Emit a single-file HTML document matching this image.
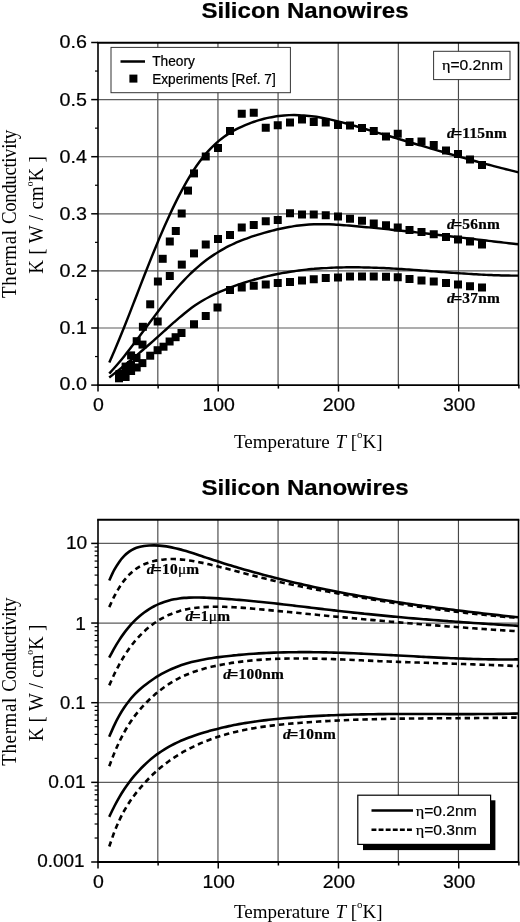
<!DOCTYPE html>
<html lang="en"><head><meta charset="utf-8"><title>Silicon Nanowires</title>
<style>html,body{margin:0;padding:0;background:#fff}svg{display:block}</style>
</head><body>
<svg width="520" height="922" viewBox="0 0 520 922">
<rect width="520" height="922" fill="#fff"/>
<text transform="translate(305.00 18.20) scale(1.060 1)" text-anchor="middle" style="font-family:'Liberation Sans',Arial,sans-serif;font-size:22.7px;font-weight:bold;stroke:#000;stroke-width:0.22px">Silicon Nanowires</text>
<line x1="157.82" y1="42.50" x2="157.82" y2="385.10" stroke="#484848" stroke-width="1.15"/>
<line x1="217.95" y1="42.50" x2="217.95" y2="385.10" stroke="#484848" stroke-width="1.15"/>
<line x1="278.07" y1="42.50" x2="278.07" y2="385.10" stroke="#484848" stroke-width="1.15"/>
<line x1="338.20" y1="42.50" x2="338.20" y2="385.10" stroke="#484848" stroke-width="1.15"/>
<line x1="398.32" y1="42.50" x2="398.32" y2="385.10" stroke="#484848" stroke-width="1.15"/>
<line x1="458.45" y1="42.50" x2="458.45" y2="385.10" stroke="#484848" stroke-width="1.15"/>
<line x1="98.00" y1="328.00" x2="518.50" y2="328.00" stroke="#5c5c5c" stroke-width="1.15"/>
<line x1="98.00" y1="270.90" x2="518.50" y2="270.90" stroke="#5c5c5c" stroke-width="1.15"/>
<line x1="98.00" y1="213.80" x2="518.50" y2="213.80" stroke="#5c5c5c" stroke-width="1.15"/>
<line x1="98.00" y1="156.70" x2="518.50" y2="156.70" stroke="#5c5c5c" stroke-width="1.15"/>
<line x1="98.00" y1="99.60" x2="518.50" y2="99.60" stroke="#5c5c5c" stroke-width="1.15"/>
<path d="M97.20 42.70H519.30M97.20 385.10H519.30" fill="none" stroke="#000" stroke-width="1.9"/>
<path d="M98.00 42.50V385.10M518.50 42.50V385.10" fill="none" stroke="#000" stroke-width="1.6"/>
<line x1="98.00" y1="385.10" x2="98.00" y2="391.60" stroke="#000" stroke-width="1.5"/>
<line x1="158.12" y1="385.10" x2="158.12" y2="388.60" stroke="#000" stroke-width="1.5"/>
<line x1="218.25" y1="385.10" x2="218.25" y2="391.60" stroke="#000" stroke-width="1.5"/>
<line x1="278.38" y1="385.10" x2="278.38" y2="388.60" stroke="#000" stroke-width="1.5"/>
<line x1="338.50" y1="385.10" x2="338.50" y2="391.60" stroke="#000" stroke-width="1.5"/>
<line x1="398.62" y1="385.10" x2="398.62" y2="388.60" stroke="#000" stroke-width="1.5"/>
<line x1="458.75" y1="385.10" x2="458.75" y2="391.60" stroke="#000" stroke-width="1.5"/>
<line x1="518.88" y1="385.10" x2="518.88" y2="388.60" stroke="#000" stroke-width="1.5"/>
<line x1="91.20" y1="385.10" x2="98.00" y2="385.10" stroke="#000" stroke-width="1.5"/>
<line x1="91.20" y1="328.00" x2="98.00" y2="328.00" stroke="#000" stroke-width="1.5"/>
<line x1="91.20" y1="270.90" x2="98.00" y2="270.90" stroke="#000" stroke-width="1.5"/>
<line x1="91.20" y1="213.80" x2="98.00" y2="213.80" stroke="#000" stroke-width="1.5"/>
<line x1="91.20" y1="156.70" x2="98.00" y2="156.70" stroke="#000" stroke-width="1.5"/>
<line x1="91.20" y1="99.60" x2="98.00" y2="99.60" stroke="#000" stroke-width="1.5"/>
<line x1="91.20" y1="42.50" x2="98.00" y2="42.50" stroke="#000" stroke-width="1.5"/>
<line x1="95.00" y1="356.55" x2="98.00" y2="356.55" stroke="#000" stroke-width="1.2"/>
<line x1="95.00" y1="299.45" x2="98.00" y2="299.45" stroke="#000" stroke-width="1.2"/>
<line x1="95.00" y1="242.35" x2="98.00" y2="242.35" stroke="#000" stroke-width="1.2"/>
<line x1="95.00" y1="185.25" x2="98.00" y2="185.25" stroke="#000" stroke-width="1.2"/>
<line x1="95.00" y1="128.15" x2="98.00" y2="128.15" stroke="#000" stroke-width="1.2"/>
<line x1="95.00" y1="71.05" x2="98.00" y2="71.05" stroke="#000" stroke-width="1.2"/>
<text transform="translate(98.40 410.90) scale(1.060 1)" text-anchor="middle" style="font-family:'Liberation Sans',Arial,sans-serif;font-size:18.4px;stroke:#000;stroke-width:0.22px">0</text>
<text transform="translate(218.65 410.90) scale(1.060 1)" text-anchor="middle" style="font-family:'Liberation Sans',Arial,sans-serif;font-size:18.4px;stroke:#000;stroke-width:0.22px">100</text>
<text transform="translate(338.90 410.90) scale(1.060 1)" text-anchor="middle" style="font-family:'Liberation Sans',Arial,sans-serif;font-size:18.4px;stroke:#000;stroke-width:0.22px">200</text>
<text transform="translate(459.15 410.90) scale(1.060 1)" text-anchor="middle" style="font-family:'Liberation Sans',Arial,sans-serif;font-size:18.4px;stroke:#000;stroke-width:0.22px">300</text>
<text transform="translate(86.90 390.40) scale(1.070 1)" text-anchor="end" style="font-family:'Liberation Sans',Arial,sans-serif;font-size:18.4px;stroke:#000;stroke-width:0.22px">0.0</text>
<text transform="translate(86.90 333.90) scale(1.070 1)" text-anchor="end" style="font-family:'Liberation Sans',Arial,sans-serif;font-size:18.4px;stroke:#000;stroke-width:0.22px">0.1</text>
<text transform="translate(86.90 276.80) scale(1.070 1)" text-anchor="end" style="font-family:'Liberation Sans',Arial,sans-serif;font-size:18.4px;stroke:#000;stroke-width:0.22px">0.2</text>
<text transform="translate(86.90 219.70) scale(1.070 1)" text-anchor="end" style="font-family:'Liberation Sans',Arial,sans-serif;font-size:18.4px;stroke:#000;stroke-width:0.22px">0.3</text>
<text transform="translate(86.90 162.60) scale(1.070 1)" text-anchor="end" style="font-family:'Liberation Sans',Arial,sans-serif;font-size:18.4px;stroke:#000;stroke-width:0.22px">0.4</text>
<text transform="translate(86.90 105.50) scale(1.070 1)" text-anchor="end" style="font-family:'Liberation Sans',Arial,sans-serif;font-size:18.4px;stroke:#000;stroke-width:0.22px">0.5</text>
<text transform="translate(86.90 48.40) scale(1.070 1)" text-anchor="end" style="font-family:'Liberation Sans',Arial,sans-serif;font-size:18.4px;stroke:#000;stroke-width:0.22px">0.6</text>
<g clip-path="none">
<path d="M109.25 362.52C110.08 360.62 112.58 355.03 114.24 351.15C115.91 347.27 117.57 343.29 119.24 339.25C120.90 335.22 122.57 331.10 124.23 326.94C125.90 322.79 127.56 318.56 129.23 314.33C130.89 310.09 132.55 305.80 134.22 301.52C135.88 297.24 137.55 292.93 139.21 288.64C140.88 284.36 142.54 280.06 144.21 275.80C145.87 271.54 147.54 267.29 149.20 263.11C150.87 258.92 152.53 254.75 154.20 250.67C155.86 246.59 157.52 242.56 159.19 238.61C160.85 234.67 162.52 230.80 164.18 227.02C165.85 223.23 167.51 219.53 169.18 215.92C170.84 212.32 172.51 208.79 174.17 205.38C175.84 201.96 177.50 198.63 179.16 195.42C180.83 192.20 182.49 189.09 184.16 186.09C185.82 183.09 187.49 180.20 189.15 177.43C190.82 174.66 192.48 172.01 194.15 169.49C195.81 166.96 197.48 164.56 199.14 162.29C200.80 160.02 202.47 157.89 204.13 155.86C205.80 153.83 207.46 151.94 209.13 150.14C210.79 148.34 212.46 146.66 214.12 145.08C215.79 143.49 217.45 142.02 219.12 140.63C220.78 139.24 222.45 137.95 224.11 136.74C225.77 135.52 227.44 134.40 229.10 133.35C230.77 132.29 232.43 131.31 234.10 130.39C235.76 129.47 237.43 128.62 239.09 127.82C240.76 127.01 242.42 126.27 244.09 125.56C245.75 124.84 247.41 124.18 249.08 123.55C250.74 122.91 252.41 122.31 254.07 121.75C255.74 121.18 257.40 120.65 259.07 120.16C260.73 119.67 262.40 119.21 264.06 118.78C265.73 118.36 267.39 117.97 269.05 117.62C270.72 117.27 272.38 116.95 274.05 116.67C275.71 116.39 277.38 116.15 279.04 115.94C280.71 115.73 282.37 115.56 284.04 115.43C285.70 115.29 287.37 115.20 289.03 115.14C290.70 115.07 292.36 115.05 294.02 115.05C295.69 115.06 297.35 115.10 299.02 115.17C300.68 115.24 302.35 115.34 304.01 115.47C305.68 115.59 307.34 115.75 309.01 115.93C310.67 116.12 312.34 116.33 314.00 116.56C315.66 116.79 317.33 117.05 318.99 117.33C320.66 117.61 322.32 117.91 323.99 118.23C325.65 118.55 327.32 118.89 328.98 119.25C330.65 119.61 332.31 119.98 333.98 120.37C335.64 120.76 337.30 121.17 338.97 121.59C340.63 122.01 342.30 122.44 343.96 122.88C345.63 123.32 347.29 123.78 348.96 124.24C350.62 124.70 352.29 125.17 353.95 125.65C355.62 126.13 357.28 126.61 358.95 127.10C360.61 127.59 362.27 128.08 363.94 128.57C365.60 129.07 367.27 129.57 368.93 130.06C370.60 130.56 372.26 131.06 373.93 131.55C375.59 132.05 377.26 132.55 378.92 133.05C380.59 133.54 382.25 134.04 383.91 134.54C385.58 135.04 387.24 135.54 388.91 136.03C390.57 136.53 392.24 137.03 393.90 137.53C395.57 138.02 397.23 138.52 398.90 139.02C400.56 139.52 402.23 140.01 403.89 140.51C405.55 141.01 407.22 141.50 408.88 142.00C410.55 142.49 412.21 142.99 413.88 143.48C415.54 143.97 417.21 144.47 418.87 144.96C420.54 145.45 422.20 145.94 423.87 146.43C425.53 146.92 427.20 147.41 428.86 147.90C430.52 148.39 432.19 148.88 433.85 149.36C435.52 149.85 437.18 150.33 438.85 150.82C440.51 151.30 442.18 151.78 443.84 152.26C445.51 152.74 447.17 153.22 448.84 153.70C450.50 154.18 452.16 154.65 453.83 155.13C455.49 155.60 457.16 156.07 458.82 156.54C460.49 157.01 462.15 157.48 463.82 157.94C465.48 158.41 467.15 158.87 468.81 159.34C470.48 159.80 472.14 160.26 473.80 160.71C475.47 161.17 477.13 161.63 478.80 162.08C480.46 162.53 482.13 162.98 483.79 163.43C485.46 163.87 487.12 164.32 488.79 164.76C490.45 165.20 492.12 165.64 493.78 166.08C495.45 166.51 497.11 166.95 498.77 167.38C500.44 167.81 502.10 168.24 503.77 168.66C505.43 169.08 507.10 169.51 508.76 169.92C510.43 170.34 512.09 170.76 513.76 171.17C515.42 171.58 517.92 172.19 518.75 172.39" fill="none" stroke="#000" stroke-width="2.45" stroke-linejoin="round"/>
<path d="M109.25 373.50C110.08 372.59 112.58 369.92 114.24 368.05C115.91 366.17 117.57 364.23 119.24 362.25C120.90 360.27 122.57 358.23 124.23 356.16C125.90 354.09 127.56 351.97 129.23 349.83C130.89 347.70 132.55 345.52 134.22 343.33C135.88 341.14 137.55 338.92 139.21 336.70C140.88 334.47 142.54 332.23 144.21 330.00C145.87 327.76 147.54 325.52 149.20 323.29C150.87 321.06 152.53 318.83 154.20 316.62C155.86 314.41 157.52 312.21 159.19 310.04C160.85 307.87 162.52 305.71 164.18 303.60C165.85 301.48 167.51 299.38 169.18 297.33C170.84 295.28 172.51 293.26 174.17 291.30C175.84 289.33 177.50 287.40 179.16 285.53C180.83 283.67 182.49 281.85 184.16 280.09C185.82 278.34 187.49 276.64 189.15 275.00C190.82 273.36 192.48 271.79 194.15 270.27C195.81 268.74 197.48 267.28 199.14 265.87C200.80 264.46 202.47 263.11 204.13 261.80C205.80 260.50 207.46 259.25 209.13 258.05C210.79 256.85 212.46 255.71 214.12 254.61C215.79 253.50 217.45 252.46 219.12 251.45C220.78 250.44 222.45 249.49 224.11 248.57C225.77 247.66 227.44 246.79 229.10 245.96C230.77 245.13 232.43 244.34 234.10 243.59C235.76 242.83 237.43 242.11 239.09 241.42C240.76 240.73 242.42 240.08 244.09 239.45C245.75 238.82 247.41 238.22 249.08 237.64C250.74 237.06 252.41 236.50 254.07 235.96C255.74 235.43 257.40 234.91 259.07 234.40C260.73 233.90 262.40 233.41 264.06 232.93C265.73 232.45 267.39 231.99 269.05 231.54C270.72 231.09 272.38 230.66 274.05 230.24C275.71 229.82 277.38 229.42 279.04 229.04C280.71 228.66 282.37 228.30 284.04 227.96C285.70 227.61 287.37 227.29 289.03 226.99C290.70 226.69 292.36 226.41 294.02 226.16C295.69 225.90 297.35 225.67 299.02 225.46C300.68 225.25 302.35 225.07 304.01 224.92C305.68 224.76 307.34 224.63 309.01 224.53C310.67 224.43 312.34 224.35 314.00 224.29C315.66 224.24 317.33 224.20 318.99 224.19C320.66 224.18 322.32 224.19 323.99 224.21C325.65 224.23 327.32 224.28 328.98 224.33C330.65 224.39 332.31 224.46 333.98 224.55C335.64 224.63 337.30 224.73 338.97 224.84C340.63 224.94 342.30 225.06 343.96 225.19C345.63 225.31 347.29 225.45 348.96 225.59C350.62 225.72 352.29 225.87 353.95 226.01C355.62 226.16 357.28 226.31 358.95 226.46C360.61 226.61 362.27 226.76 363.94 226.92C365.60 227.07 367.27 227.23 368.93 227.39C370.60 227.55 372.26 227.71 373.93 227.87C375.59 228.04 377.26 228.20 378.92 228.37C380.59 228.53 382.25 228.70 383.91 228.87C385.58 229.04 387.24 229.21 388.91 229.39C390.57 229.56 392.24 229.73 393.90 229.91C395.57 230.09 397.23 230.26 398.90 230.44C400.56 230.62 402.23 230.80 403.89 230.98C405.55 231.17 407.22 231.35 408.88 231.53C410.55 231.72 412.21 231.90 413.88 232.09C415.54 232.27 417.21 232.46 418.87 232.65C420.54 232.84 422.20 233.03 423.87 233.22C425.53 233.41 427.20 233.60 428.86 233.79C430.52 233.98 432.19 234.17 433.85 234.37C435.52 234.56 437.18 234.75 438.85 234.95C440.51 235.14 442.18 235.34 443.84 235.53C445.51 235.73 447.17 235.93 448.84 236.12C450.50 236.32 452.16 236.51 453.83 236.71C455.49 236.91 457.16 237.11 458.82 237.30C460.49 237.50 462.15 237.70 463.82 237.90C465.48 238.09 467.15 238.29 468.81 238.49C470.48 238.69 472.14 238.88 473.80 239.08C475.47 239.28 477.13 239.48 478.80 239.68C480.46 239.87 482.13 240.07 483.79 240.27C485.46 240.46 487.12 240.66 488.79 240.86C490.45 241.05 492.12 241.25 493.78 241.44C495.45 241.64 497.11 241.83 498.77 242.03C500.44 242.22 502.10 242.41 503.77 242.61C505.43 242.80 507.10 242.99 508.76 243.18C510.43 243.37 512.09 243.56 513.76 243.75C515.42 243.94 517.92 244.23 518.75 244.32" fill="none" stroke="#000" stroke-width="2.45" stroke-linejoin="round"/>
<path d="M109.20 377.58C110.03 376.92 112.53 374.95 114.19 373.63C115.86 372.30 117.52 370.97 119.19 369.63C120.85 368.29 122.52 366.94 124.18 365.58C125.85 364.22 127.51 362.86 129.18 361.48C130.84 360.10 132.51 358.72 134.17 357.32C135.84 355.93 137.50 354.52 139.17 353.11C140.83 351.70 142.50 350.27 144.16 348.84C145.83 347.41 147.49 345.96 149.16 344.51C150.82 343.05 152.49 341.59 154.15 340.12C155.82 338.64 157.48 337.15 159.15 335.66C160.81 334.17 162.47 332.66 164.14 331.16C165.80 329.65 167.47 328.14 169.13 326.65C170.80 325.16 172.46 323.67 174.13 322.20C175.79 320.74 177.46 319.29 179.12 317.87C180.79 316.45 182.45 315.06 184.12 313.71C185.78 312.35 187.45 311.03 189.11 309.77C190.78 308.50 192.44 307.28 194.11 306.11C195.77 304.94 197.44 303.84 199.10 302.77C200.77 301.71 202.43 300.71 204.10 299.74C205.76 298.78 207.43 297.86 209.09 296.98C210.76 296.10 212.42 295.26 214.08 294.46C215.75 293.65 217.41 292.89 219.08 292.15C220.74 291.41 222.41 290.70 224.07 290.02C225.74 289.33 227.40 288.68 229.07 288.04C230.73 287.40 232.40 286.78 234.06 286.17C235.73 285.57 237.39 284.98 239.06 284.41C240.72 283.84 242.39 283.28 244.05 282.74C245.72 282.20 247.38 281.68 249.05 281.17C250.71 280.67 252.38 280.17 254.04 279.70C255.71 279.22 257.37 278.76 259.04 278.32C260.70 277.87 262.37 277.44 264.03 277.03C265.69 276.61 267.36 276.22 269.02 275.83C270.69 275.45 272.35 275.08 274.02 274.73C275.68 274.37 277.35 274.03 279.01 273.71C280.68 273.39 282.34 273.08 284.01 272.78C285.67 272.48 287.34 272.20 289.00 271.93C290.67 271.67 292.33 271.41 294.00 271.17C295.66 270.93 297.33 270.70 298.99 270.48C300.66 270.27 302.32 270.06 303.99 269.87C305.65 269.68 307.32 269.50 308.98 269.33C310.65 269.17 312.31 269.01 313.98 268.86C315.64 268.72 317.30 268.59 318.97 268.46C320.63 268.34 322.30 268.23 323.96 268.13C325.63 268.02 327.29 267.93 328.96 267.85C330.62 267.77 332.29 267.70 333.95 267.63C335.62 267.57 337.28 267.52 338.95 267.47C340.61 267.43 342.28 267.39 343.94 267.37C345.61 267.34 347.27 267.32 348.94 267.31C350.60 267.30 352.27 267.30 353.93 267.30C355.60 267.30 357.26 267.32 358.93 267.34C360.59 267.35 362.26 267.38 363.92 267.41C365.58 267.45 367.25 267.49 368.91 267.53C370.58 267.58 372.24 267.63 373.91 267.69C375.57 267.74 377.24 267.81 378.90 267.87C380.57 267.94 382.23 268.01 383.90 268.09C385.56 268.17 387.23 268.25 388.89 268.34C390.56 268.43 392.22 268.52 393.89 268.61C395.55 268.71 397.22 268.81 398.88 268.91C400.55 269.01 402.21 269.12 403.88 269.22C405.54 269.33 407.21 269.44 408.87 269.56C410.54 269.67 412.20 269.79 413.87 269.90C415.53 270.02 417.19 270.14 418.86 270.26C420.52 270.39 422.19 270.51 423.85 270.63C425.52 270.76 427.18 270.88 428.85 271.01C430.51 271.13 432.18 271.26 433.84 271.38C435.51 271.51 437.17 271.64 438.84 271.76C440.50 271.89 442.17 272.01 443.83 272.14C445.50 272.26 447.16 272.39 448.83 272.51C450.49 272.63 452.16 272.75 453.82 272.87C455.49 272.99 457.15 273.11 458.82 273.23C460.48 273.34 462.15 273.46 463.81 273.57C465.48 273.68 467.14 273.79 468.80 273.89C470.47 274.00 472.13 274.10 473.80 274.20C475.46 274.29 477.13 274.39 478.79 274.48C480.46 274.57 482.12 274.66 483.79 274.74C485.45 274.82 487.12 274.90 488.78 274.97C490.45 275.04 492.11 275.11 493.78 275.17C495.44 275.24 497.11 275.29 498.77 275.34C500.44 275.40 502.10 275.44 503.77 275.48C505.43 275.52 507.10 275.55 508.76 275.58C510.43 275.60 512.09 275.62 513.76 275.63C515.42 275.64 517.92 275.64 518.75 275.64" fill="none" stroke="#000" stroke-width="2.45" stroke-linejoin="round"/>
<rect x="115.50" y="370.00" width="8.0" height="8.0" fill="#000"/>
<rect x="121.60" y="362.60" width="8.0" height="8.0" fill="#000"/>
<rect x="127.10" y="351.40" width="8.0" height="8.0" fill="#000"/>
<rect x="132.70" y="337.20" width="8.0" height="8.0" fill="#000"/>
<rect x="138.90" y="322.80" width="8.0" height="8.0" fill="#000"/>
<rect x="146.20" y="300.30" width="8.0" height="8.0" fill="#000"/>
<rect x="153.90" y="277.50" width="8.0" height="8.0" fill="#000"/>
<rect x="158.70" y="254.80" width="8.0" height="8.0" fill="#000"/>
<rect x="165.80" y="237.50" width="8.0" height="8.0" fill="#000"/>
<rect x="171.80" y="227.00" width="8.0" height="8.0" fill="#000"/>
<rect x="177.70" y="209.50" width="8.0" height="8.0" fill="#000"/>
<rect x="184.00" y="186.60" width="8.0" height="8.0" fill="#000"/>
<rect x="190.00" y="169.40" width="8.0" height="8.0" fill="#000"/>
<rect x="201.75" y="152.50" width="8.0" height="8.0" fill="#000"/>
<rect x="214.00" y="144.00" width="8.0" height="8.0" fill="#000"/>
<rect x="226.00" y="127.00" width="8.0" height="8.0" fill="#000"/>
<rect x="237.75" y="109.75" width="8.0" height="8.0" fill="#000"/>
<rect x="249.75" y="108.75" width="8.0" height="8.0" fill="#000"/>
<rect x="261.75" y="123.75" width="8.0" height="8.0" fill="#000"/>
<rect x="273.75" y="121.25" width="8.0" height="8.0" fill="#000"/>
<rect x="286.00" y="118.50" width="8.0" height="8.0" fill="#000"/>
<rect x="298.00" y="115.50" width="8.0" height="8.0" fill="#000"/>
<rect x="309.75" y="118.00" width="8.0" height="8.0" fill="#000"/>
<rect x="321.75" y="118.50" width="8.0" height="8.0" fill="#000"/>
<rect x="334.00" y="121.00" width="8.0" height="8.0" fill="#000"/>
<rect x="346.00" y="121.50" width="8.0" height="8.0" fill="#000"/>
<rect x="358.00" y="124.00" width="8.0" height="8.0" fill="#000"/>
<rect x="369.75" y="127.00" width="8.0" height="8.0" fill="#000"/>
<rect x="382.00" y="132.50" width="8.0" height="8.0" fill="#000"/>
<rect x="393.75" y="129.75" width="8.0" height="8.0" fill="#000"/>
<rect x="405.50" y="138.00" width="8.0" height="8.0" fill="#000"/>
<rect x="417.50" y="137.50" width="8.0" height="8.0" fill="#000"/>
<rect x="429.75" y="141.00" width="8.0" height="8.0" fill="#000"/>
<rect x="442.00" y="146.50" width="8.0" height="8.0" fill="#000"/>
<rect x="454.00" y="150.00" width="8.0" height="8.0" fill="#000"/>
<rect x="466.00" y="155.50" width="8.0" height="8.0" fill="#000"/>
<rect x="478.00" y="161.00" width="8.0" height="8.0" fill="#000"/>
<rect x="115.50" y="372.50" width="8.0" height="8.0" fill="#000"/>
<rect x="121.60" y="366.50" width="8.0" height="8.0" fill="#000"/>
<rect x="127.00" y="361.00" width="8.0" height="8.0" fill="#000"/>
<rect x="132.50" y="354.00" width="8.0" height="8.0" fill="#000"/>
<rect x="138.50" y="340.60" width="8.0" height="8.0" fill="#000"/>
<rect x="153.70" y="317.50" width="8.0" height="8.0" fill="#000"/>
<rect x="165.80" y="272.00" width="8.0" height="8.0" fill="#000"/>
<rect x="177.80" y="260.60" width="8.0" height="8.0" fill="#000"/>
<rect x="190.00" y="249.40" width="8.0" height="8.0" fill="#000"/>
<rect x="201.75" y="240.50" width="8.0" height="8.0" fill="#000"/>
<rect x="214.00" y="235.00" width="8.0" height="8.0" fill="#000"/>
<rect x="226.00" y="231.00" width="8.0" height="8.0" fill="#000"/>
<rect x="237.75" y="223.50" width="8.0" height="8.0" fill="#000"/>
<rect x="249.75" y="221.00" width="8.0" height="8.0" fill="#000"/>
<rect x="261.75" y="217.25" width="8.0" height="8.0" fill="#000"/>
<rect x="273.75" y="216.00" width="8.0" height="8.0" fill="#000"/>
<rect x="286.00" y="209.25" width="8.0" height="8.0" fill="#000"/>
<rect x="298.00" y="210.50" width="8.0" height="8.0" fill="#000"/>
<rect x="309.75" y="210.50" width="8.0" height="8.0" fill="#000"/>
<rect x="321.75" y="211.25" width="8.0" height="8.0" fill="#000"/>
<rect x="334.00" y="212.50" width="8.0" height="8.0" fill="#000"/>
<rect x="346.00" y="214.75" width="8.0" height="8.0" fill="#000"/>
<rect x="358.00" y="216.75" width="8.0" height="8.0" fill="#000"/>
<rect x="369.75" y="219.50" width="8.0" height="8.0" fill="#000"/>
<rect x="382.00" y="221.25" width="8.0" height="8.0" fill="#000"/>
<rect x="393.75" y="223.50" width="8.0" height="8.0" fill="#000"/>
<rect x="405.50" y="226.00" width="8.0" height="8.0" fill="#000"/>
<rect x="417.50" y="228.00" width="8.0" height="8.0" fill="#000"/>
<rect x="429.75" y="230.25" width="8.0" height="8.0" fill="#000"/>
<rect x="442.00" y="233.00" width="8.0" height="8.0" fill="#000"/>
<rect x="454.00" y="235.50" width="8.0" height="8.0" fill="#000"/>
<rect x="466.00" y="237.50" width="8.0" height="8.0" fill="#000"/>
<rect x="478.00" y="240.50" width="8.0" height="8.0" fill="#000"/>
<rect x="115.00" y="374.30" width="8.0" height="8.0" fill="#000"/>
<rect x="121.60" y="373.00" width="8.0" height="8.0" fill="#000"/>
<rect x="127.10" y="367.00" width="8.0" height="8.0" fill="#000"/>
<rect x="132.70" y="363.50" width="8.0" height="8.0" fill="#000"/>
<rect x="138.40" y="359.10" width="8.0" height="8.0" fill="#000"/>
<rect x="146.20" y="351.70" width="8.0" height="8.0" fill="#000"/>
<rect x="153.60" y="346.20" width="8.0" height="8.0" fill="#000"/>
<rect x="159.50" y="342.70" width="8.0" height="8.0" fill="#000"/>
<rect x="165.60" y="337.50" width="8.0" height="8.0" fill="#000"/>
<rect x="171.60" y="333.20" width="8.0" height="8.0" fill="#000"/>
<rect x="177.50" y="329.00" width="8.0" height="8.0" fill="#000"/>
<rect x="190.00" y="320.25" width="8.0" height="8.0" fill="#000"/>
<rect x="201.75" y="312.00" width="8.0" height="8.0" fill="#000"/>
<rect x="213.50" y="303.50" width="8.0" height="8.0" fill="#000"/>
<rect x="226.00" y="286.00" width="8.0" height="8.0" fill="#000"/>
<rect x="237.75" y="283.50" width="8.0" height="8.0" fill="#000"/>
<rect x="249.75" y="281.75" width="8.0" height="8.0" fill="#000"/>
<rect x="261.75" y="280.50" width="8.0" height="8.0" fill="#000"/>
<rect x="273.75" y="279.00" width="8.0" height="8.0" fill="#000"/>
<rect x="286.00" y="278.00" width="8.0" height="8.0" fill="#000"/>
<rect x="298.00" y="276.50" width="8.0" height="8.0" fill="#000"/>
<rect x="309.75" y="275.25" width="8.0" height="8.0" fill="#000"/>
<rect x="321.75" y="274.00" width="8.0" height="8.0" fill="#000"/>
<rect x="334.00" y="273.50" width="8.0" height="8.0" fill="#000"/>
<rect x="346.00" y="272.50" width="8.0" height="8.0" fill="#000"/>
<rect x="358.00" y="272.50" width="8.0" height="8.0" fill="#000"/>
<rect x="369.75" y="272.50" width="8.0" height="8.0" fill="#000"/>
<rect x="382.00" y="272.75" width="8.0" height="8.0" fill="#000"/>
<rect x="393.75" y="273.25" width="8.0" height="8.0" fill="#000"/>
<rect x="405.50" y="275.00" width="8.0" height="8.0" fill="#000"/>
<rect x="417.50" y="276.50" width="8.0" height="8.0" fill="#000"/>
<rect x="429.75" y="277.50" width="8.0" height="8.0" fill="#000"/>
<rect x="442.00" y="279.00" width="8.0" height="8.0" fill="#000"/>
<rect x="454.00" y="280.50" width="8.0" height="8.0" fill="#000"/>
<rect x="466.00" y="282.25" width="8.0" height="8.0" fill="#000"/>
<rect x="478.00" y="283.50" width="8.0" height="8.0" fill="#000"/>
</g>
<rect x="111" y="47.4" width="179.4" height="45.3" fill="#fff" stroke="#333" stroke-width="1"/>
<line x1="120.5" y1="61.5" x2="145" y2="61.5" stroke="#000" stroke-width="2.5"/>
<rect x="129.4" y="74.6" width="8" height="8" fill="#000"/>
<text transform="translate(152.20 66.00) scale(0.980 1)" text-anchor="start" style="font-family:'Liberation Sans',Arial,sans-serif;font-size:14px;stroke:#000;stroke-width:0.22px">Theory</text>
<text transform="translate(152.20 84.00) scale(0.975 1)" text-anchor="start" style="font-family:'Liberation Sans',Arial,sans-serif;font-size:14px;stroke:#000;stroke-width:0.22px">Experiments [Ref. 7]</text>
<rect x="433.6" y="51.3" width="76.4" height="28.3" fill="#fff" stroke="#333" stroke-width="1"/>
<text transform="translate(442.00 70.10) scale(1.040 1)" text-anchor="start" style="font-family:'Liberation Sans',Arial,sans-serif;font-size:15px;stroke:#000;stroke-width:0.22px"><tspan style="font-family:'Liberation Serif','Times New Roman',serif;font-size:15.5px">η</tspan>=0.2nm</text>
<text transform="translate(447.00 137.50) scale(1.100 1)" text-anchor="start" style="font-family:'Liberation Serif','Times New Roman',serif;font-size:14px;font-weight:bold;stroke:#000;stroke-width:0.22px"><tspan font-style="italic">d</tspan><tspan dx="-1.2" style="letter-spacing:0.2px">=115nm</tspan></text>
<text transform="translate(447.00 228.70) scale(1.100 1)" text-anchor="start" style="font-family:'Liberation Serif','Times New Roman',serif;font-size:14px;font-weight:bold;stroke:#000;stroke-width:0.22px"><tspan font-style="italic">d</tspan><tspan dx="-1.2" style="letter-spacing:0.2px">=56nm</tspan></text>
<text transform="translate(447.00 303.00) scale(1.100 1)" text-anchor="start" style="font-family:'Liberation Serif','Times New Roman',serif;font-size:14px;font-weight:bold;stroke:#000;stroke-width:0.22px"><tspan font-style="italic">d</tspan><tspan dx="-1.2" style="letter-spacing:0.2px">=37nm</tspan></text>
<text transform="translate(308.30 447.70) scale(1.000 1)" text-anchor="middle" style="font-family:'Liberation Serif','Times New Roman',serif;font-size:19px">Temperature <tspan font-style="italic" dx="1">T</tspan> [<tspan dy="-9.6" font-size="11">o</tspan><tspan dy="9.6">K]</tspan></text>
<text transform="translate(15.80 214.00) scale(1.070 1) rotate(-90)" text-anchor="middle" style="font-family:'Liberation Serif','Times New Roman',serif;font-size:18.9px"><tspan style="letter-spacing:0.65px">Thermal </tspan><tspan style="letter-spacing:-0.4px">Conductivity</tspan></text>
<text transform="translate(43.20 215.00) scale(1.070 1) rotate(-90)" text-anchor="middle" style="font-family:'Liberation Serif','Times New Roman',serif;font-size:18.9px"><tspan style="word-spacing:0.8px">K [ W / cm<tspan dy="-9.3" font-size="9.5">o</tspan><tspan dy="9.3">K ]</tspan></tspan></text>
<text transform="translate(305.00 494.60) scale(1.060 1)" text-anchor="middle" style="font-family:'Liberation Sans',Arial,sans-serif;font-size:22.7px;font-weight:bold;stroke:#000;stroke-width:0.22px">Silicon Nanowires</text>
<line x1="157.82" y1="519.50" x2="157.82" y2="862.00" stroke="#484848" stroke-width="1.15"/>
<line x1="217.95" y1="519.50" x2="217.95" y2="862.00" stroke="#484848" stroke-width="1.15"/>
<line x1="278.07" y1="519.50" x2="278.07" y2="862.00" stroke="#484848" stroke-width="1.15"/>
<line x1="338.20" y1="519.50" x2="338.20" y2="862.00" stroke="#484848" stroke-width="1.15"/>
<line x1="398.32" y1="519.50" x2="398.32" y2="862.00" stroke="#484848" stroke-width="1.15"/>
<line x1="458.45" y1="519.50" x2="458.45" y2="862.00" stroke="#484848" stroke-width="1.15"/>
<line x1="98.00" y1="543.40" x2="518.50" y2="543.40" stroke="#5c5c5c" stroke-width="1.15"/>
<line x1="98.00" y1="623.05" x2="518.50" y2="623.05" stroke="#5c5c5c" stroke-width="1.15"/>
<line x1="98.00" y1="702.70" x2="518.50" y2="702.70" stroke="#5c5c5c" stroke-width="1.15"/>
<line x1="98.00" y1="782.35" x2="518.50" y2="782.35" stroke="#5c5c5c" stroke-width="1.15"/>
<path d="M97.20 519.70H519.30M97.20 862.00H519.30" fill="none" stroke="#000" stroke-width="1.9"/>
<path d="M98.00 519.50V862.00M518.50 519.50V862.00" fill="none" stroke="#000" stroke-width="1.6"/>
<line x1="98.00" y1="862.00" x2="98.00" y2="868.50" stroke="#000" stroke-width="1.5"/>
<line x1="158.12" y1="862.00" x2="158.12" y2="865.50" stroke="#000" stroke-width="1.5"/>
<line x1="218.25" y1="862.00" x2="218.25" y2="868.50" stroke="#000" stroke-width="1.5"/>
<line x1="278.38" y1="862.00" x2="278.38" y2="865.50" stroke="#000" stroke-width="1.5"/>
<line x1="338.50" y1="862.00" x2="338.50" y2="868.50" stroke="#000" stroke-width="1.5"/>
<line x1="398.62" y1="862.00" x2="398.62" y2="865.50" stroke="#000" stroke-width="1.5"/>
<line x1="458.75" y1="862.00" x2="458.75" y2="868.50" stroke="#000" stroke-width="1.5"/>
<line x1="518.88" y1="862.00" x2="518.88" y2="865.50" stroke="#000" stroke-width="1.5"/>
<line x1="91.20" y1="543.40" x2="98.00" y2="543.40" stroke="#000" stroke-width="1.5"/>
<line x1="91.20" y1="623.05" x2="98.00" y2="623.05" stroke="#000" stroke-width="1.5"/>
<line x1="91.20" y1="702.70" x2="98.00" y2="702.70" stroke="#000" stroke-width="1.5"/>
<line x1="91.20" y1="782.35" x2="98.00" y2="782.35" stroke="#000" stroke-width="1.5"/>
<line x1="91.20" y1="862.00" x2="98.00" y2="862.00" stroke="#000" stroke-width="1.5"/>
<line x1="94.60" y1="838.02" x2="98.00" y2="838.02" stroke="#000" stroke-width="1.2"/>
<line x1="94.60" y1="824.00" x2="98.00" y2="824.00" stroke="#000" stroke-width="1.2"/>
<line x1="94.60" y1="814.05" x2="98.00" y2="814.05" stroke="#000" stroke-width="1.2"/>
<line x1="94.60" y1="806.33" x2="98.00" y2="806.33" stroke="#000" stroke-width="1.2"/>
<line x1="94.60" y1="800.02" x2="98.00" y2="800.02" stroke="#000" stroke-width="1.2"/>
<line x1="94.60" y1="794.69" x2="98.00" y2="794.69" stroke="#000" stroke-width="1.2"/>
<line x1="94.60" y1="790.07" x2="98.00" y2="790.07" stroke="#000" stroke-width="1.2"/>
<line x1="94.60" y1="785.99" x2="98.00" y2="785.99" stroke="#000" stroke-width="1.2"/>
<line x1="94.60" y1="758.37" x2="98.00" y2="758.37" stroke="#000" stroke-width="1.2"/>
<line x1="94.60" y1="744.35" x2="98.00" y2="744.35" stroke="#000" stroke-width="1.2"/>
<line x1="94.60" y1="734.40" x2="98.00" y2="734.40" stroke="#000" stroke-width="1.2"/>
<line x1="94.60" y1="726.68" x2="98.00" y2="726.68" stroke="#000" stroke-width="1.2"/>
<line x1="94.60" y1="720.37" x2="98.00" y2="720.37" stroke="#000" stroke-width="1.2"/>
<line x1="94.60" y1="715.04" x2="98.00" y2="715.04" stroke="#000" stroke-width="1.2"/>
<line x1="94.60" y1="710.42" x2="98.00" y2="710.42" stroke="#000" stroke-width="1.2"/>
<line x1="94.60" y1="706.34" x2="98.00" y2="706.34" stroke="#000" stroke-width="1.2"/>
<line x1="94.60" y1="678.72" x2="98.00" y2="678.72" stroke="#000" stroke-width="1.2"/>
<line x1="94.60" y1="664.70" x2="98.00" y2="664.70" stroke="#000" stroke-width="1.2"/>
<line x1="94.60" y1="654.75" x2="98.00" y2="654.75" stroke="#000" stroke-width="1.2"/>
<line x1="94.60" y1="647.03" x2="98.00" y2="647.03" stroke="#000" stroke-width="1.2"/>
<line x1="94.60" y1="640.72" x2="98.00" y2="640.72" stroke="#000" stroke-width="1.2"/>
<line x1="94.60" y1="635.39" x2="98.00" y2="635.39" stroke="#000" stroke-width="1.2"/>
<line x1="94.60" y1="630.77" x2="98.00" y2="630.77" stroke="#000" stroke-width="1.2"/>
<line x1="94.60" y1="626.69" x2="98.00" y2="626.69" stroke="#000" stroke-width="1.2"/>
<line x1="94.60" y1="599.07" x2="98.00" y2="599.07" stroke="#000" stroke-width="1.2"/>
<line x1="94.60" y1="585.05" x2="98.00" y2="585.05" stroke="#000" stroke-width="1.2"/>
<line x1="94.60" y1="575.10" x2="98.00" y2="575.10" stroke="#000" stroke-width="1.2"/>
<line x1="94.60" y1="567.38" x2="98.00" y2="567.38" stroke="#000" stroke-width="1.2"/>
<line x1="94.60" y1="561.07" x2="98.00" y2="561.07" stroke="#000" stroke-width="1.2"/>
<line x1="94.60" y1="555.74" x2="98.00" y2="555.74" stroke="#000" stroke-width="1.2"/>
<line x1="94.60" y1="551.12" x2="98.00" y2="551.12" stroke="#000" stroke-width="1.2"/>
<line x1="94.60" y1="547.04" x2="98.00" y2="547.04" stroke="#000" stroke-width="1.2"/>
<text transform="translate(98.40 887.80) scale(1.060 1)" text-anchor="middle" style="font-family:'Liberation Sans',Arial,sans-serif;font-size:18.4px;stroke:#000;stroke-width:0.22px">0</text>
<text transform="translate(218.65 887.80) scale(1.060 1)" text-anchor="middle" style="font-family:'Liberation Sans',Arial,sans-serif;font-size:18.4px;stroke:#000;stroke-width:0.22px">100</text>
<text transform="translate(338.90 887.80) scale(1.060 1)" text-anchor="middle" style="font-family:'Liberation Sans',Arial,sans-serif;font-size:18.4px;stroke:#000;stroke-width:0.22px">200</text>
<text transform="translate(459.15 887.80) scale(1.060 1)" text-anchor="middle" style="font-family:'Liberation Sans',Arial,sans-serif;font-size:18.4px;stroke:#000;stroke-width:0.22px">300</text>
<text transform="translate(87.20 548.60) scale(1.040 1)" text-anchor="end" style="font-family:'Liberation Sans',Arial,sans-serif;font-size:18.4px;stroke:#000;stroke-width:0.22px">10</text>
<text transform="translate(86.00 629.55) scale(1.040 1)" text-anchor="end" style="font-family:'Liberation Sans',Arial,sans-serif;font-size:18.4px;stroke:#000;stroke-width:0.22px">1</text>
<text transform="translate(85.60 708.90) scale(1.000 1)" text-anchor="end" style="font-family:'Liberation Sans',Arial,sans-serif;font-size:18.4px;stroke:#000;stroke-width:0.22px">0.1</text>
<text transform="translate(85.60 787.55) scale(1.040 1)" text-anchor="end" style="font-family:'Liberation Sans',Arial,sans-serif;font-size:18.4px;stroke:#000;stroke-width:0.22px">0.01</text>
<text transform="translate(84.60 867.10) scale(1.030 1)" text-anchor="end" style="font-family:'Liberation Sans',Arial,sans-serif;font-size:18.4px;stroke:#000;stroke-width:0.22px">0.001</text>
<path d="M109.25 580.47C110.08 578.72 112.58 573.07 114.24 569.97C115.90 566.88 117.56 564.23 119.23 561.88C120.89 559.53 122.55 557.57 124.22 555.86C125.88 554.14 127.54 552.77 129.20 551.59C130.87 550.40 132.53 549.50 134.19 548.74C135.85 547.97 137.52 547.44 139.18 546.99C140.84 546.54 142.51 546.26 144.17 546.02C145.83 545.78 147.49 545.63 149.16 545.53C150.82 545.43 152.48 545.39 154.15 545.40C155.81 545.42 157.47 545.50 159.13 545.62C160.80 545.74 162.46 545.91 164.12 546.13C165.79 546.34 167.45 546.61 169.11 546.90C170.77 547.20 172.44 547.54 174.10 547.91C175.76 548.28 177.43 548.69 179.09 549.12C180.75 549.54 182.41 550.01 184.08 550.48C185.74 550.96 187.40 551.47 189.06 551.98C190.73 552.50 192.39 553.03 194.05 553.57C195.72 554.11 197.38 554.67 199.04 555.22C200.70 555.78 202.37 556.34 204.03 556.90C205.69 557.46 207.36 558.02 209.02 558.57C210.68 559.12 212.34 559.67 214.01 560.21C215.67 560.75 217.33 561.28 219.00 561.81C220.66 562.34 222.32 562.87 223.98 563.39C225.65 563.91 227.31 564.42 228.97 564.93C230.63 565.44 232.30 565.95 233.96 566.45C235.62 566.95 237.29 567.44 238.95 567.93C240.61 568.42 242.27 568.90 243.94 569.38C245.60 569.86 247.26 570.34 248.93 570.81C250.59 571.28 252.25 571.75 253.91 572.21C255.58 572.67 257.24 573.12 258.90 573.58C260.57 574.03 262.23 574.48 263.89 574.92C265.55 575.36 267.22 575.80 268.88 576.23C270.54 576.67 272.20 577.09 273.87 577.52C275.53 577.94 277.19 578.36 278.86 578.78C280.52 579.20 282.18 579.61 283.84 580.02C285.51 580.42 287.17 580.83 288.83 581.23C290.50 581.63 292.16 582.02 293.82 582.41C295.48 582.80 297.15 583.19 298.81 583.57C300.47 583.95 302.14 584.33 303.80 584.71C305.46 585.08 307.12 585.45 308.79 585.82C310.45 586.19 312.11 586.55 313.77 586.91C315.44 587.27 317.10 587.63 318.76 587.98C320.43 588.33 322.09 588.68 323.75 589.02C325.41 589.37 327.08 589.71 328.74 590.05C330.40 590.38 332.07 590.72 333.73 591.05C335.39 591.38 337.05 591.71 338.72 592.03C340.38 592.35 342.04 592.67 343.71 592.99C345.37 593.31 347.03 593.62 348.69 593.93C350.36 594.24 352.02 594.55 353.68 594.85C355.35 595.16 357.01 595.46 358.67 595.75C360.33 596.05 362.00 596.35 363.66 596.64C365.32 596.93 366.98 597.22 368.65 597.50C370.31 597.79 371.97 598.07 373.64 598.35C375.30 598.63 376.96 598.91 378.62 599.18C380.29 599.45 381.95 599.73 383.61 599.99C385.28 600.26 386.94 600.53 388.60 600.79C390.26 601.05 391.93 601.32 393.59 601.57C395.25 601.83 396.92 602.09 398.58 602.34C400.24 602.59 401.90 602.84 403.57 603.09C405.23 603.34 406.89 603.58 408.55 603.83C410.22 604.07 411.88 604.31 413.54 604.55C415.21 604.79 416.87 605.02 418.53 605.26C420.19 605.49 421.86 605.72 423.52 605.95C425.18 606.18 426.85 606.41 428.51 606.64C430.17 606.86 431.83 607.09 433.50 607.31C435.16 607.53 436.82 607.75 438.49 607.97C440.15 608.18 441.81 608.40 443.47 608.61C445.14 608.83 446.80 609.04 448.46 609.25C450.12 609.46 451.79 609.67 453.45 609.88C455.11 610.08 456.78 610.29 458.44 610.49C460.10 610.70 461.76 610.90 463.43 611.10C465.09 611.30 466.75 611.50 468.42 611.70C470.08 611.90 471.74 612.09 473.40 612.29C475.07 612.48 476.73 612.68 478.39 612.87C480.06 613.06 481.72 613.25 483.38 613.44C485.04 613.63 486.71 613.82 488.37 614.01C490.03 614.19 491.70 614.38 493.36 614.57C495.02 614.75 496.68 614.94 498.35 615.12C500.01 615.30 501.67 615.48 503.33 615.67C505.00 615.85 506.66 616.03 508.32 616.21C509.99 616.39 511.65 616.57 513.31 616.74C514.97 616.92 517.47 617.19 518.30 617.27" fill="none" stroke="#000" stroke-width="2.6"/>
<path d="M109.25 657.58C110.08 656.03 112.58 651.21 114.24 648.29C115.90 645.38 117.56 642.66 119.23 640.09C120.89 637.53 122.55 635.14 124.22 632.90C125.88 630.66 127.54 628.58 129.20 626.63C130.87 624.68 132.53 622.88 134.19 621.20C135.85 619.52 137.52 617.97 139.18 616.52C140.84 615.08 142.51 613.76 144.17 612.52C145.83 611.28 147.49 610.16 149.16 609.11C150.82 608.06 152.48 607.11 154.15 606.24C155.81 605.36 157.47 604.57 159.13 603.86C160.80 603.14 162.46 602.51 164.12 601.93C165.79 601.36 167.45 600.86 169.11 600.42C170.77 599.97 172.44 599.60 174.10 599.27C175.76 598.94 177.43 598.67 179.09 598.44C180.75 598.21 182.41 598.04 184.08 597.90C185.74 597.75 187.40 597.66 189.06 597.59C190.73 597.52 192.39 597.49 194.05 597.48C195.72 597.46 197.38 597.48 199.04 597.52C200.70 597.55 202.37 597.60 204.03 597.66C205.69 597.73 207.36 597.80 209.02 597.88C210.68 597.96 212.34 598.04 214.01 598.13C215.67 598.22 217.33 598.32 219.00 598.42C220.66 598.52 222.32 598.63 223.98 598.74C225.65 598.85 227.31 598.97 228.97 599.09C230.63 599.21 232.30 599.34 233.96 599.47C235.62 599.60 237.29 599.73 238.95 599.87C240.61 600.01 242.27 600.16 243.94 600.30C245.60 600.45 247.26 600.60 248.93 600.76C250.59 600.91 252.25 601.07 253.91 601.23C255.58 601.40 257.24 601.56 258.90 601.73C260.57 601.90 262.23 602.07 263.89 602.24C265.55 602.42 267.22 602.60 268.88 602.77C270.54 602.95 272.20 603.14 273.87 603.32C275.53 603.50 277.19 603.69 278.86 603.88C280.52 604.06 282.18 604.25 283.84 604.45C285.51 604.64 287.17 604.83 288.83 605.02C290.50 605.22 292.16 605.41 293.82 605.61C295.48 605.80 297.15 606.00 298.81 606.20C300.47 606.40 302.14 606.60 303.80 606.80C305.46 606.99 307.12 607.19 308.79 607.39C310.45 607.59 312.11 607.79 313.77 607.99C315.44 608.19 317.10 608.39 318.76 608.59C320.43 608.79 322.09 608.98 323.75 609.18C325.41 609.38 327.08 609.57 328.74 609.77C330.40 609.97 332.07 610.16 333.73 610.35C335.39 610.55 337.05 610.74 338.72 610.93C340.38 611.12 342.04 611.30 343.71 611.49C345.37 611.68 347.03 611.86 348.69 612.04C350.36 612.23 352.02 612.41 353.68 612.59C355.35 612.77 357.01 612.94 358.67 613.12C360.33 613.30 362.00 613.47 363.66 613.64C365.32 613.82 366.98 613.99 368.65 614.16C370.31 614.33 371.97 614.50 373.64 614.66C375.30 614.83 376.96 614.99 378.62 615.16C380.29 615.32 381.95 615.48 383.61 615.64C385.28 615.80 386.94 615.96 388.60 616.12C390.26 616.28 391.93 616.43 393.59 616.59C395.25 616.74 396.92 616.89 398.58 617.04C400.24 617.19 401.90 617.34 403.57 617.49C405.23 617.64 406.89 617.79 408.55 617.93C410.22 618.08 411.88 618.22 413.54 618.37C415.21 618.51 416.87 618.65 418.53 618.79C420.19 618.93 421.86 619.07 423.52 619.21C425.18 619.35 426.85 619.48 428.51 619.62C430.17 619.75 431.83 619.89 433.50 620.02C435.16 620.15 436.82 620.28 438.49 620.41C440.15 620.54 441.81 620.67 443.47 620.80C445.14 620.93 446.80 621.05 448.46 621.18C450.12 621.31 451.79 621.43 453.45 621.55C455.11 621.68 456.78 621.80 458.44 621.92C460.10 622.04 461.76 622.16 463.43 622.28C465.09 622.40 466.75 622.51 468.42 622.63C470.08 622.75 471.74 622.86 473.40 622.98C475.07 623.09 476.73 623.20 478.39 623.32C480.06 623.43 481.72 623.54 483.38 623.65C485.04 623.76 486.71 623.87 488.37 623.98C490.03 624.09 491.70 624.19 493.36 624.30C495.02 624.41 496.68 624.51 498.35 624.62C500.01 624.72 501.67 624.83 503.33 624.93C505.00 625.03 506.66 625.13 508.32 625.23C509.99 625.34 511.65 625.44 513.31 625.54C514.97 625.64 517.47 625.78 518.30 625.83" fill="none" stroke="#000" stroke-width="2.6"/>
<path d="M109.25 736.67C110.08 734.78 112.58 728.82 114.24 725.33C115.90 721.83 117.56 718.66 119.23 715.70C120.89 712.74 122.55 710.07 124.22 707.57C125.88 705.08 127.54 702.83 129.20 700.73C130.87 698.63 132.53 696.74 134.19 694.96C135.85 693.18 137.52 691.58 139.18 690.05C140.84 688.52 142.51 687.13 144.17 685.78C145.83 684.43 147.49 683.17 149.16 681.96C150.82 680.75 152.48 679.60 154.15 678.51C155.81 677.41 157.47 676.38 159.13 675.40C160.80 674.42 162.46 673.50 164.12 672.63C165.79 671.75 167.45 670.93 169.11 670.15C170.77 669.38 172.44 668.65 174.10 667.96C175.76 667.27 177.43 666.63 179.09 666.03C180.75 665.42 182.41 664.86 184.08 664.33C185.74 663.80 187.40 663.31 189.06 662.84C190.73 662.38 192.39 661.95 194.05 661.55C195.72 661.15 197.38 660.77 199.04 660.42C200.70 660.07 202.37 659.75 204.03 659.44C205.69 659.13 207.36 658.85 209.02 658.58C210.68 658.31 212.34 658.06 214.01 657.82C215.67 657.58 217.33 657.35 219.00 657.14C220.66 656.92 222.32 656.71 223.98 656.51C225.65 656.31 227.31 656.11 228.97 655.93C230.63 655.74 232.30 655.57 233.96 655.40C235.62 655.23 237.29 655.06 238.95 654.91C240.61 654.75 242.27 654.61 243.94 654.47C245.60 654.33 247.26 654.19 248.93 654.07C250.59 653.94 252.25 653.82 253.91 653.71C255.58 653.60 257.24 653.49 258.90 653.40C260.57 653.30 262.23 653.20 263.89 653.12C265.55 653.03 267.22 652.95 268.88 652.88C270.54 652.80 272.20 652.74 273.87 652.67C275.53 652.61 277.19 652.56 278.86 652.51C280.52 652.46 282.18 652.41 283.84 652.37C285.51 652.33 287.17 652.30 288.83 652.27C290.50 652.24 292.16 652.22 293.82 652.20C295.48 652.18 297.15 652.17 298.81 652.16C300.47 652.15 302.14 652.14 303.80 652.14C305.46 652.14 307.12 652.15 308.79 652.16C310.45 652.17 312.11 652.18 313.77 652.20C315.44 652.22 317.10 652.24 318.76 652.26C320.43 652.29 322.09 652.32 323.75 652.35C325.41 652.38 327.08 652.42 328.74 652.46C330.40 652.50 332.07 652.54 333.73 652.59C335.39 652.63 337.05 652.68 338.72 652.73C340.38 652.79 342.04 652.84 343.71 652.90C345.37 652.96 347.03 653.02 348.69 653.08C350.36 653.14 352.02 653.21 353.68 653.28C355.35 653.35 357.01 653.42 358.67 653.49C360.33 653.56 362.00 653.64 363.66 653.71C365.32 653.79 366.98 653.87 368.65 653.94C370.31 654.02 371.97 654.11 373.64 654.19C375.30 654.27 376.96 654.35 378.62 654.44C380.29 654.52 381.95 654.61 383.61 654.70C385.28 654.78 386.94 654.87 388.60 654.96C390.26 655.05 391.93 655.14 393.59 655.23C395.25 655.32 396.92 655.41 398.58 655.50C400.24 655.59 401.90 655.68 403.57 655.77C405.23 655.86 406.89 655.95 408.55 656.05C410.22 656.14 411.88 656.23 413.54 656.32C415.21 656.41 416.87 656.50 418.53 656.59C420.19 656.67 421.86 656.76 423.52 656.85C425.18 656.94 426.85 657.02 428.51 657.11C430.17 657.20 431.83 657.28 433.50 657.36C435.16 657.45 436.82 657.53 438.49 657.61C440.15 657.69 441.81 657.77 443.47 657.85C445.14 657.92 446.80 658.00 448.46 658.07C450.12 658.14 451.79 658.22 453.45 658.28C455.11 658.35 456.78 658.42 458.44 658.49C460.10 658.55 461.76 658.61 463.43 658.67C465.09 658.73 466.75 658.79 468.42 658.84C470.08 658.89 471.74 658.95 473.40 658.99C475.07 659.04 476.73 659.09 478.39 659.13C480.06 659.17 481.72 659.21 483.38 659.24C485.04 659.28 486.71 659.31 488.37 659.34C490.03 659.36 491.70 659.39 493.36 659.41C495.02 659.42 496.68 659.44 498.35 659.45C500.01 659.46 501.67 659.47 503.33 659.47C505.00 659.48 506.66 659.47 508.32 659.47C509.99 659.46 511.65 659.45 513.31 659.43C514.97 659.42 517.47 659.38 518.30 659.37" fill="none" stroke="#000" stroke-width="2.6"/>
<path d="M109.25 816.82C110.08 815.10 112.58 809.72 114.24 806.48C115.90 803.23 117.56 800.21 119.23 797.35C120.89 794.49 122.55 791.83 124.22 789.30C125.88 786.78 127.54 784.43 129.20 782.20C130.87 779.97 132.53 777.89 134.19 775.90C135.85 773.92 137.52 772.06 139.18 770.28C140.84 768.50 142.51 766.82 144.17 765.21C145.83 763.60 147.49 762.09 149.16 760.64C150.82 759.20 152.48 757.84 154.15 756.54C155.81 755.24 157.47 754.02 159.13 752.86C160.80 751.70 162.46 750.61 164.12 749.57C165.79 748.53 167.45 747.56 169.11 746.63C170.77 745.70 172.44 744.83 174.10 743.99C175.76 743.16 177.43 742.38 179.09 741.63C180.75 740.88 182.41 740.18 184.08 739.50C185.74 738.82 187.40 738.18 189.06 737.56C190.73 736.94 192.39 736.35 194.05 735.77C195.72 735.20 197.38 734.64 199.04 734.10C200.70 733.56 202.37 733.04 204.03 732.54C205.69 732.03 207.36 731.55 209.02 731.07C210.68 730.60 212.34 730.15 214.01 729.70C215.67 729.26 217.33 728.84 219.00 728.43C220.66 728.02 222.32 727.62 223.98 727.24C225.65 726.85 227.31 726.49 228.97 726.13C230.63 725.78 232.30 725.43 233.96 725.10C235.62 724.77 237.29 724.46 238.95 724.15C240.61 723.85 242.27 723.55 243.94 723.27C245.60 722.99 247.26 722.72 248.93 722.46C250.59 722.20 252.25 721.95 253.91 721.70C255.58 721.46 257.24 721.23 258.90 721.01C260.57 720.79 262.23 720.58 263.89 720.37C265.55 720.17 267.22 719.97 268.88 719.78C270.54 719.60 272.20 719.42 273.87 719.24C275.53 719.07 277.19 718.90 278.86 718.74C280.52 718.58 282.18 718.43 283.84 718.28C285.51 718.13 287.17 717.99 288.83 717.85C290.50 717.71 292.16 717.58 293.82 717.45C295.48 717.32 297.15 717.20 298.81 717.08C300.47 716.96 302.14 716.85 303.80 716.74C305.46 716.63 307.12 716.52 308.79 716.42C310.45 716.32 312.11 716.22 313.77 716.13C315.44 716.03 317.10 715.94 318.76 715.86C320.43 715.77 322.09 715.69 323.75 715.61C325.41 715.53 327.08 715.46 328.74 715.39C330.40 715.31 332.07 715.25 333.73 715.18C335.39 715.12 337.05 715.06 338.72 715.00C340.38 714.94 342.04 714.89 343.71 714.84C345.37 714.78 347.03 714.74 348.69 714.69C350.36 714.64 352.02 714.60 353.68 714.56C355.35 714.52 357.01 714.48 358.67 714.45C360.33 714.41 362.00 714.38 363.66 714.35C365.32 714.32 366.98 714.29 368.65 714.27C370.31 714.24 371.97 714.22 373.64 714.20C375.30 714.18 376.96 714.16 378.62 714.14C380.29 714.12 381.95 714.11 383.61 714.10C385.28 714.08 386.94 714.07 388.60 714.06C390.26 714.05 391.93 714.04 393.59 714.03C395.25 714.03 396.92 714.02 398.58 714.02C400.24 714.01 401.90 714.01 403.57 714.00C405.23 714.00 406.89 714.00 408.55 714.00C410.22 714.00 411.88 714.00 413.54 714.00C415.21 714.00 416.87 714.00 418.53 714.01C420.19 714.01 421.86 714.01 423.52 714.02C425.18 714.02 426.85 714.02 428.51 714.03C430.17 714.03 431.83 714.04 433.50 714.04C435.16 714.05 436.82 714.05 438.49 714.05C440.15 714.06 441.81 714.06 443.47 714.07C445.14 714.07 446.80 714.08 448.46 714.08C450.12 714.08 451.79 714.09 453.45 714.09C455.11 714.09 456.78 714.09 458.44 714.10C460.10 714.10 461.76 714.10 463.43 714.10C465.09 714.10 466.75 714.10 468.42 714.09C470.08 714.09 471.74 714.09 473.40 714.08C475.07 714.08 476.73 714.08 478.39 714.07C480.06 714.06 481.72 714.05 483.38 714.04C485.04 714.03 486.71 714.02 488.37 714.01C490.03 714.00 491.70 713.98 493.36 713.96C495.02 713.95 496.68 713.93 498.35 713.91C500.01 713.89 501.67 713.87 503.33 713.84C505.00 713.82 506.66 713.79 508.32 713.76C509.99 713.73 511.65 713.70 513.31 713.67C514.97 713.63 517.47 713.57 518.30 713.56" fill="none" stroke="#000" stroke-width="2.6"/>
<path d="M109.25 607.16C110.08 605.38 112.58 599.72 114.24 596.46C115.90 593.20 117.56 590.29 119.23 587.61C120.89 584.94 122.55 582.57 124.22 580.42C125.88 578.26 127.54 576.38 129.20 574.68C130.87 572.98 132.53 571.52 134.19 570.21C135.85 568.89 137.52 567.79 139.18 566.80C140.84 565.81 142.51 565.00 144.17 564.27C145.83 563.54 147.49 562.95 149.16 562.41C150.82 561.87 152.48 561.43 154.15 561.04C155.81 560.65 157.47 560.32 159.13 560.05C160.80 559.78 162.46 559.57 164.12 559.42C165.79 559.26 167.45 559.16 169.11 559.10C170.77 559.04 172.44 559.04 174.10 559.07C175.76 559.10 177.43 559.18 179.09 559.30C180.75 559.41 182.41 559.57 184.08 559.75C185.74 559.94 187.40 560.16 189.06 560.41C190.73 560.65 192.39 560.93 194.05 561.22C195.72 561.52 197.38 561.84 199.04 562.17C200.70 562.51 202.37 562.86 204.03 563.23C205.69 563.59 207.36 563.97 209.02 564.35C210.68 564.74 212.34 565.13 214.01 565.53C215.67 565.93 217.33 566.34 219.00 566.75C220.66 567.16 222.32 567.58 223.98 568.00C225.65 568.42 227.31 568.85 228.97 569.28C230.63 569.71 232.30 570.14 233.96 570.57C235.62 571.01 237.29 571.44 238.95 571.88C240.61 572.32 242.27 572.75 243.94 573.19C245.60 573.62 247.26 574.06 248.93 574.49C250.59 574.93 252.25 575.36 253.91 575.78C255.58 576.21 257.24 576.64 258.90 577.06C260.57 577.48 262.23 577.89 263.89 578.30C265.55 578.71 267.22 579.11 268.88 579.51C270.54 579.91 272.20 580.30 273.87 580.68C275.53 581.07 277.19 581.45 278.86 581.82C280.52 582.20 282.18 582.57 283.84 582.93C285.51 583.30 287.17 583.65 288.83 584.01C290.50 584.37 292.16 584.72 293.82 585.06C295.48 585.41 297.15 585.75 298.81 586.09C300.47 586.43 302.14 586.76 303.80 587.09C305.46 587.42 307.12 587.75 308.79 588.07C310.45 588.39 312.11 588.71 313.77 589.03C315.44 589.35 317.10 589.66 318.76 589.98C320.43 590.29 322.09 590.60 323.75 590.90C325.41 591.21 327.08 591.52 328.74 591.82C330.40 592.12 332.07 592.42 333.73 592.72C335.39 593.02 337.05 593.32 338.72 593.61C340.38 593.91 342.04 594.21 343.71 594.50C345.37 594.79 347.03 595.09 348.69 595.38C350.36 595.67 352.02 595.96 353.68 596.25C355.35 596.54 357.01 596.82 358.67 597.11C360.33 597.40 362.00 597.68 363.66 597.96C365.32 598.25 366.98 598.53 368.65 598.81C370.31 599.09 371.97 599.37 373.64 599.64C375.30 599.92 376.96 600.19 378.62 600.47C380.29 600.74 381.95 601.01 383.61 601.28C385.28 601.55 386.94 601.82 388.60 602.09C390.26 602.35 391.93 602.62 393.59 602.88C395.25 603.14 396.92 603.40 398.58 603.66C400.24 603.92 401.90 604.18 403.57 604.43C405.23 604.68 406.89 604.94 408.55 605.19C410.22 605.44 411.88 605.69 413.54 605.93C415.21 606.18 416.87 606.42 418.53 606.66C420.19 606.90 421.86 607.14 423.52 607.38C425.18 607.62 426.85 607.85 428.51 608.08C430.17 608.32 431.83 608.55 433.50 608.77C435.16 609.00 436.82 609.23 438.49 609.45C440.15 609.67 441.81 609.89 443.47 610.11C445.14 610.32 446.80 610.54 448.46 610.75C450.12 610.96 451.79 611.17 453.45 611.38C455.11 611.58 456.78 611.79 458.44 611.99C460.10 612.19 461.76 612.39 463.43 612.58C465.09 612.78 466.75 612.97 468.42 613.16C470.08 613.35 471.74 613.54 473.40 613.72C475.07 613.90 476.73 614.08 478.39 614.26C480.06 614.44 481.72 614.61 483.38 614.79C485.04 614.96 486.71 615.12 488.37 615.29C490.03 615.45 491.70 615.62 493.36 615.77C495.02 615.93 496.68 616.09 498.35 616.24C500.01 616.39 501.67 616.54 503.33 616.68C505.00 616.83 506.66 616.97 508.32 617.11C509.99 617.25 511.65 617.38 513.31 617.51C514.97 617.64 517.47 617.83 518.30 617.89" fill="none" stroke="#000" stroke-width="2.6" stroke-dasharray="5.4 3.9"/>
<path d="M109.25 685.36C110.08 683.52 112.58 677.75 114.24 674.28C115.90 670.81 117.56 667.58 119.23 664.53C120.89 661.48 122.55 658.66 124.22 655.99C125.88 653.33 127.54 650.86 129.20 648.54C130.87 646.21 132.53 644.07 134.19 642.04C135.85 640.02 137.52 638.15 139.18 636.39C140.84 634.62 142.51 632.99 144.17 631.45C145.83 629.90 147.49 628.47 149.16 627.11C150.82 625.75 152.48 624.49 154.15 623.31C155.81 622.13 157.47 621.04 159.13 620.02C160.80 619.00 162.46 618.06 164.12 617.19C165.79 616.32 167.45 615.53 169.11 614.80C170.77 614.07 172.44 613.41 174.10 612.80C175.76 612.20 177.43 611.66 179.09 611.17C180.75 610.68 182.41 610.25 184.08 609.86C185.74 609.47 187.40 609.13 189.06 608.83C190.73 608.53 192.39 608.28 194.05 608.06C195.72 607.84 197.38 607.66 199.04 607.50C200.70 607.34 202.37 607.22 204.03 607.12C205.69 607.02 207.36 606.94 209.02 606.88C210.68 606.82 212.34 606.78 214.01 606.76C215.67 606.74 217.33 606.73 219.00 606.74C220.66 606.75 222.32 606.78 223.98 606.82C225.65 606.86 227.31 606.92 228.97 606.98C230.63 607.05 232.30 607.13 233.96 607.22C235.62 607.31 237.29 607.41 238.95 607.52C240.61 607.63 242.27 607.75 243.94 607.88C245.60 608.00 247.26 608.14 248.93 608.28C250.59 608.42 252.25 608.56 253.91 608.71C255.58 608.86 257.24 609.02 258.90 609.17C260.57 609.33 262.23 609.49 263.89 609.64C265.55 609.80 267.22 609.96 268.88 610.12C270.54 610.28 272.20 610.44 273.87 610.61C275.53 610.77 277.19 610.93 278.86 611.09C280.52 611.25 282.18 611.41 283.84 611.57C285.51 611.74 287.17 611.90 288.83 612.06C290.50 612.22 292.16 612.38 293.82 612.55C295.48 612.71 297.15 612.87 298.81 613.03C300.47 613.20 302.14 613.36 303.80 613.52C305.46 613.68 307.12 613.84 308.79 614.01C310.45 614.17 312.11 614.33 313.77 614.49C315.44 614.65 317.10 614.82 318.76 614.98C320.43 615.14 322.09 615.30 323.75 615.46C325.41 615.62 327.08 615.78 328.74 615.94C330.40 616.10 332.07 616.26 333.73 616.42C335.39 616.58 337.05 616.74 338.72 616.90C340.38 617.05 342.04 617.21 343.71 617.37C345.37 617.53 347.03 617.68 348.69 617.84C350.36 617.99 352.02 618.15 353.68 618.31C355.35 618.46 357.01 618.61 358.67 618.77C360.33 618.92 362.00 619.08 363.66 619.23C365.32 619.38 366.98 619.53 368.65 619.68C370.31 619.84 371.97 619.99 373.64 620.14C375.30 620.29 376.96 620.44 378.62 620.59C380.29 620.73 381.95 620.88 383.61 621.03C385.28 621.18 386.94 621.33 388.60 621.47C390.26 621.62 391.93 621.76 393.59 621.91C395.25 622.05 396.92 622.20 398.58 622.34C400.24 622.49 401.90 622.63 403.57 622.77C405.23 622.91 406.89 623.05 408.55 623.20C410.22 623.34 411.88 623.48 413.54 623.62C415.21 623.76 416.87 623.89 418.53 624.03C420.19 624.17 421.86 624.31 423.52 624.44C425.18 624.58 426.85 624.72 428.51 624.85C430.17 624.98 431.83 625.12 433.50 625.25C435.16 625.39 436.82 625.52 438.49 625.65C440.15 625.78 441.81 625.91 443.47 626.04C445.14 626.17 446.80 626.30 448.46 626.43C450.12 626.56 451.79 626.68 453.45 626.81C455.11 626.94 456.78 627.06 458.44 627.19C460.10 627.31 461.76 627.44 463.43 627.56C465.09 627.68 466.75 627.81 468.42 627.93C470.08 628.05 471.74 628.17 473.40 628.29C475.07 628.41 476.73 628.53 478.39 628.64C480.06 628.76 481.72 628.88 483.38 628.99C485.04 629.11 486.71 629.22 488.37 629.34C490.03 629.45 491.70 629.57 493.36 629.68C495.02 629.79 496.68 629.90 498.35 630.01C500.01 630.12 501.67 630.23 503.33 630.34C505.00 630.45 506.66 630.55 508.32 630.66C509.99 630.76 511.65 630.87 513.31 630.97C514.97 631.08 517.47 631.23 518.30 631.28" fill="none" stroke="#000" stroke-width="2.6" stroke-dasharray="5.4 3.9"/>
<path d="M109.25 766.32C110.08 764.14 112.58 757.32 114.24 753.27C115.90 749.21 117.56 745.49 119.23 741.99C120.89 738.49 122.55 735.28 124.22 732.27C125.88 729.25 127.54 726.50 129.20 723.90C130.87 721.30 132.53 718.92 134.19 716.67C135.85 714.41 137.52 712.35 139.18 710.37C140.84 708.39 142.51 706.57 144.17 704.80C145.83 703.03 147.49 701.36 149.16 699.75C150.82 698.15 152.48 696.63 154.15 695.17C155.81 693.71 157.47 692.33 159.13 691.01C160.80 689.70 162.46 688.45 164.12 687.26C165.79 686.08 167.45 684.96 169.11 683.89C170.77 682.83 172.44 681.82 174.10 680.87C175.76 679.92 177.43 679.03 179.09 678.18C180.75 677.33 182.41 676.54 184.08 675.78C185.74 675.03 187.40 674.33 189.06 673.66C190.73 673.00 192.39 672.38 194.05 671.79C195.72 671.20 197.38 670.66 199.04 670.14C200.70 669.62 202.37 669.14 204.03 668.68C205.69 668.22 207.36 667.80 209.02 667.39C210.68 666.99 212.34 666.61 214.01 666.25C215.67 665.88 217.33 665.54 219.00 665.22C220.66 664.89 222.32 664.58 223.98 664.28C225.65 663.98 227.31 663.70 228.97 663.42C230.63 663.15 232.30 662.89 233.96 662.65C235.62 662.40 237.29 662.17 238.95 661.95C240.61 661.73 242.27 661.52 243.94 661.33C245.60 661.13 247.26 660.94 248.93 660.77C250.59 660.60 252.25 660.43 253.91 660.28C255.58 660.13 257.24 659.99 258.90 659.86C260.57 659.73 262.23 659.61 263.89 659.50C265.55 659.39 267.22 659.29 268.88 659.19C270.54 659.10 272.20 659.02 273.87 658.95C275.53 658.87 277.19 658.81 278.86 658.75C280.52 658.69 282.18 658.64 283.84 658.60C285.51 658.56 287.17 658.53 288.83 658.50C290.50 658.48 292.16 658.46 293.82 658.44C295.48 658.43 297.15 658.43 298.81 658.43C300.47 658.43 302.14 658.43 303.80 658.44C305.46 658.46 307.12 658.47 308.79 658.50C310.45 658.52 312.11 658.55 313.77 658.58C315.44 658.61 317.10 658.65 318.76 658.69C320.43 658.73 322.09 658.78 323.75 658.83C325.41 658.88 327.08 658.93 328.74 658.98C330.40 659.04 332.07 659.10 333.73 659.16C335.39 659.22 337.05 659.29 338.72 659.35C340.38 659.42 342.04 659.49 343.71 659.56C345.37 659.63 347.03 659.70 348.69 659.77C350.36 659.84 352.02 659.92 353.68 659.99C355.35 660.06 357.01 660.14 358.67 660.21C360.33 660.29 362.00 660.36 363.66 660.44C365.32 660.51 366.98 660.59 368.65 660.66C370.31 660.73 371.97 660.80 373.64 660.87C375.30 660.94 376.96 661.01 378.62 661.08C380.29 661.15 381.95 661.22 383.61 661.29C385.28 661.35 386.94 661.42 388.60 661.48C390.26 661.55 391.93 661.61 393.59 661.67C395.25 661.74 396.92 661.80 398.58 661.86C400.24 661.92 401.90 661.98 403.57 662.04C405.23 662.10 406.89 662.16 408.55 662.22C410.22 662.28 411.88 662.34 413.54 662.40C415.21 662.45 416.87 662.51 418.53 662.57C420.19 662.63 421.86 662.68 423.52 662.74C425.18 662.79 426.85 662.85 428.51 662.90C430.17 662.96 431.83 663.02 433.50 663.07C435.16 663.12 436.82 663.18 438.49 663.23C440.15 663.29 441.81 663.34 443.47 663.40C445.14 663.45 446.80 663.51 448.46 663.56C450.12 663.61 451.79 663.67 453.45 663.72C455.11 663.78 456.78 663.83 458.44 663.89C460.10 663.94 461.76 664.00 463.43 664.05C465.09 664.11 466.75 664.16 468.42 664.22C470.08 664.27 471.74 664.33 473.40 664.38C475.07 664.44 476.73 664.50 478.39 664.55C480.06 664.61 481.72 664.67 483.38 664.73C485.04 664.79 486.71 664.84 488.37 664.90C490.03 664.96 491.70 665.02 493.36 665.08C495.02 665.14 496.68 665.20 498.35 665.27C500.01 665.33 501.67 665.39 503.33 665.46C505.00 665.52 506.66 665.58 508.32 665.65C509.99 665.71 511.65 665.78 513.31 665.85C514.97 665.92 517.47 666.02 518.30 666.05" fill="none" stroke="#000" stroke-width="2.6" stroke-dasharray="5.4 3.9"/>
<path d="M109.25 846.48C110.08 844.13 112.58 836.68 114.24 832.36C115.90 828.04 117.56 824.18 119.23 820.57C120.89 816.97 122.55 813.75 124.22 810.73C125.88 807.72 127.54 805.03 129.20 802.47C130.87 799.92 132.53 797.63 134.19 795.41C135.85 793.19 137.52 791.16 139.18 789.17C140.84 787.17 142.51 785.28 144.17 783.44C145.83 781.61 147.49 779.86 149.16 778.17C150.82 776.48 152.48 774.87 154.15 773.31C155.81 771.76 157.47 770.28 159.13 768.85C160.80 767.42 162.46 766.06 164.12 764.75C165.79 763.44 167.45 762.19 169.11 760.99C170.77 759.79 172.44 758.65 174.10 757.55C175.76 756.45 177.43 755.40 179.09 754.39C180.75 753.37 182.41 752.41 184.08 751.48C185.74 750.55 187.40 749.67 189.06 748.81C190.73 747.95 192.39 747.14 194.05 746.34C195.72 745.55 197.38 744.79 199.04 744.06C200.70 743.32 202.37 742.61 204.03 741.93C205.69 741.25 207.36 740.60 209.02 739.97C210.68 739.34 212.34 738.74 214.01 738.16C215.67 737.58 217.33 737.02 219.00 736.49C220.66 735.95 222.32 735.44 223.98 734.95C225.65 734.46 227.31 734.00 228.97 733.55C230.63 733.10 232.30 732.67 233.96 732.26C235.62 731.85 237.29 731.46 238.95 731.08C240.61 730.71 242.27 730.36 243.94 730.01C245.60 729.67 247.26 729.35 248.93 729.04C250.59 728.73 252.25 728.44 253.91 728.16C255.58 727.88 257.24 727.61 258.90 727.36C260.57 727.10 262.23 726.86 263.89 726.63C265.55 726.40 267.22 726.18 268.88 725.97C270.54 725.76 272.20 725.56 273.87 725.36C275.53 725.17 277.19 724.99 278.86 724.81C280.52 724.63 282.18 724.47 283.84 724.30C285.51 724.14 287.17 723.98 288.83 723.83C290.50 723.67 292.16 723.53 293.82 723.38C295.48 723.24 297.15 723.10 298.81 722.96C300.47 722.83 302.14 722.70 303.80 722.57C305.46 722.44 307.12 722.32 308.79 722.20C310.45 722.08 312.11 721.96 313.77 721.85C315.44 721.74 317.10 721.63 318.76 721.52C320.43 721.42 322.09 721.32 323.75 721.22C325.41 721.12 327.08 721.03 328.74 720.94C330.40 720.84 332.07 720.76 333.73 720.67C335.39 720.59 337.05 720.51 338.72 720.43C340.38 720.35 342.04 720.27 343.71 720.20C345.37 720.13 347.03 720.06 348.69 719.99C350.36 719.92 352.02 719.86 353.68 719.80C355.35 719.74 357.01 719.68 358.67 719.62C360.33 719.57 362.00 719.51 363.66 719.46C365.32 719.41 366.98 719.36 368.65 719.31C370.31 719.27 371.97 719.22 373.64 719.18C375.30 719.14 376.96 719.10 378.62 719.06C380.29 719.02 381.95 718.98 383.61 718.95C385.28 718.91 386.94 718.88 388.60 718.85C390.26 718.82 391.93 718.79 393.59 718.76C395.25 718.73 396.92 718.71 398.58 718.68C400.24 718.66 401.90 718.63 403.57 718.61C405.23 718.59 406.89 718.57 408.55 718.55C410.22 718.53 411.88 718.51 413.54 718.49C415.21 718.48 416.87 718.46 418.53 718.45C420.19 718.43 421.86 718.42 423.52 718.40C425.18 718.39 426.85 718.37 428.51 718.36C430.17 718.35 431.83 718.34 433.50 718.33C435.16 718.32 436.82 718.30 438.49 718.29C440.15 718.28 441.81 718.27 443.47 718.26C445.14 718.25 446.80 718.24 448.46 718.23C450.12 718.22 451.79 718.22 453.45 718.21C455.11 718.20 456.78 718.19 458.44 718.18C460.10 718.17 461.76 718.16 463.43 718.15C465.09 718.14 466.75 718.13 468.42 718.12C470.08 718.11 471.74 718.09 473.40 718.08C475.07 718.07 476.73 718.06 478.39 718.04C480.06 718.03 481.72 718.02 483.38 718.00C485.04 717.99 486.71 717.97 488.37 717.96C490.03 717.94 491.70 717.92 493.36 717.90C495.02 717.88 496.68 717.86 498.35 717.84C500.01 717.82 501.67 717.80 503.33 717.78C505.00 717.75 506.66 717.73 508.32 717.70C509.99 717.67 511.65 717.65 513.31 717.62C514.97 717.59 517.47 717.54 518.30 717.52" fill="none" stroke="#000" stroke-width="2.6" stroke-dasharray="5.4 3.9"/>
<text transform="translate(146.70 574.40) scale(1.100 1)" text-anchor="start" style="font-family:'Liberation Serif','Times New Roman',serif;font-size:14px;font-weight:bold;stroke:#000;stroke-width:0.22px"><tspan font-style="italic">d</tspan><tspan dx="-1.2" style="letter-spacing:0.2px">=10<tspan font-weight="normal">μ</tspan>m</tspan></text>
<text transform="translate(185.50 620.50) scale(1.100 1)" text-anchor="start" style="font-family:'Liberation Serif','Times New Roman',serif;font-size:14px;font-weight:bold;stroke:#000;stroke-width:0.22px"><tspan font-style="italic">d</tspan><tspan dx="-1.2" style="letter-spacing:0.2px">=1<tspan font-weight="normal">μ</tspan>m</tspan></text>
<text transform="translate(223.20 678.50) scale(1.100 1)" text-anchor="start" style="font-family:'Liberation Serif','Times New Roman',serif;font-size:14px;font-weight:bold;stroke:#000;stroke-width:0.22px"><tspan font-style="italic">d</tspan><tspan dx="-1.2" style="letter-spacing:0.2px">=100nm</tspan></text>
<text transform="translate(283.00 738.60) scale(1.100 1)" text-anchor="start" style="font-family:'Liberation Serif','Times New Roman',serif;font-size:14px;font-weight:bold;stroke:#000;stroke-width:0.22px"><tspan font-style="italic">d</tspan><tspan dx="-1.2" style="letter-spacing:0.2px">=10nm</tspan></text>
<rect x="363" y="800.3" width="132.4" height="49.8" fill="#000"/>
<rect x="357.8" y="795.2" width="132.8" height="49.2" fill="#fff" stroke="#000" stroke-width="1.2"/>
<line x1="371.5" y1="810.6" x2="413" y2="810.6" stroke="#000" stroke-width="2.5"/>
<line x1="371.5" y1="829.8" x2="413" y2="829.8" stroke="#000" stroke-width="2.5" stroke-dasharray="4.9 2.2"/>
<text transform="translate(415.80 815.80) scale(1.040 1)" text-anchor="start" style="font-family:'Liberation Sans',Arial,sans-serif;font-size:15px;stroke:#000;stroke-width:0.22px"><tspan style="font-family:'Liberation Serif','Times New Roman',serif;font-size:15.5px">η</tspan>=0.2nm</text>
<text transform="translate(415.80 834.80) scale(1.040 1)" text-anchor="start" style="font-family:'Liberation Sans',Arial,sans-serif;font-size:15px;stroke:#000;stroke-width:0.22px"><tspan style="font-family:'Liberation Serif','Times New Roman',serif;font-size:15.5px">η</tspan>=0.3nm</text>
<text transform="translate(308.30 917.60) scale(1.000 1)" text-anchor="middle" style="font-family:'Liberation Serif','Times New Roman',serif;font-size:19px">Temperature <tspan font-style="italic" dx="1">T</tspan> [<tspan dy="-9.6" font-size="11">o</tspan><tspan dy="9.6">K]</tspan></text>
<text transform="translate(15.80 681.80) scale(1.070 1) rotate(-90)" text-anchor="middle" style="font-family:'Liberation Serif','Times New Roman',serif;font-size:18.9px"><tspan style="letter-spacing:0.65px">Thermal </tspan><tspan style="letter-spacing:-0.4px">Conductivity</tspan></text>
<text transform="translate(43.20 683.00) scale(1.070 1) rotate(-90)" text-anchor="middle" style="font-family:'Liberation Serif','Times New Roman',serif;font-size:18.9px"><tspan style="word-spacing:0.6px">K [ W / cm<tspan dy="-9.3" font-size="9.5">o</tspan><tspan dy="9.3">K ]</tspan></tspan></text>
</svg>
</body></html>
